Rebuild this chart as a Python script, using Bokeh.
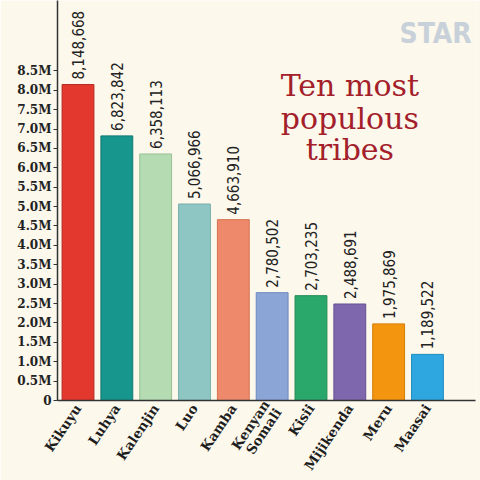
import math
from bokeh.plotting import figure
from bokeh.models import Range1d, FixedTicker, ColumnDataSource
from bokeh.core.properties import value
from bokeh.embed import file_html
from bokeh.resources import INLINE

tribes = ["Kikuyu", "Luhya", "Kalenjin", "Luo", "Kamba", "Kenyan\nSomali",
          "Kisii", "Mijikenda", "Meru", "Maasai"]
population = [8148668, 6823842, 6358113, 5066966, 4663910, 2780502,
              2703235, 2488691, 1975869, 1189522]
colors = ["#e2382e", "#16968d", "#b4dbb1", "#8ec6c3", "#ee8a6b", "#8ba5d7",
          "#2aa86c", "#7f67ae", "#f4950f", "#2ea6df"]
outlines = ["#b82a22", "#0f7770", "#98c294", "#76aeab", "#d4714f", "#7089bd",
            "#1e8a55", "#665192", "#d67d06", "#1f8cc0"]
y_ticks = [i * 500000 for i in range(18)]
y_tick_labels = ["0"] + [f"{t / 1e6:.1f}M" for t in y_ticks[1:]]

BG = "#fcf8ec"
Y_TOP = 10315000

xs = list(range(len(tribes)))
src = ColumnDataSource(dict(x=xs, top=population, color=colors, line=outlines,
                            label=[f"{v:,}" for v in population]))

p = figure(width=480, height=480, output_backend="svg", toolbar_location=None,
           x_range=Range1d(-0.528, 10.237), y_range=Range1d(0, Y_TOP),
           min_border_left=57, min_border_right=5, min_border_top=0,
           min_border_bottom=79)
p.background_fill_color = BG
p.border_fill_color = BG
p.outline_line_color = None
p.grid.grid_line_color = None

p.vbar(x="x", top="top", width=0.82, bottom=0, fill_color="color",
       line_color="line", line_width=1, source=src)

# value labels
p.text(x="x", y="top", text="label", angle=math.pi / 2, y_offset=-5,
       text_align="left", text_baseline="middle",
       text_font=value("DejaVu Sans Condensed"), text_font_size="15px",
       text_color="#222222", source=src)

# title
for line, yv in zip(["Ten most", "populous", "tribes"], [8.13e6, 7.28e6, 6.46e6]):
    p.text(x=[7.0], y=[yv], text=[line], text_align="center",
           text_baseline="alphabetic", text_font=value("DejaVu Serif"),
           text_font_size="30px", text_color="#a3202a")

# logo
p.text(x=[9.21], y=[9.47e6], text=["STAR"], text_align="center",
       text_baseline="alphabetic", text_font=value("DejaVu Sans Condensed"),
       text_font_style="bold", text_font_size="28px", text_color="#c8d1d9")

xa = p.xaxis[0]
xa.ticker = FixedTicker(ticks=xs)
xa.major_label_overrides = {i: t for i, t in enumerate(tribes)}
xa.major_label_orientation = math.radians(56)
xa.major_label_text_font = "DejaVu Serif"
xa.major_label_text_font_style = "bold"
xa.major_label_text_font_size = "13.5px"
xa.major_label_text_color = "#1e1e1e"
xa.major_label_text_line_height = 0.9
xa.major_tick_line_color = None
xa.major_tick_out = 0
xa.major_tick_in = 0
xa.minor_tick_line_color = None
xa.axis_line_color = "#333333"
xa.axis_line_width = 1.5
xa.major_label_standoff = 5

ya = p.yaxis[0]
ya.ticker = FixedTicker(ticks=y_ticks)
ya.major_label_overrides = {t: l for t, l in zip(y_ticks, y_tick_labels)}
ya.major_label_text_font = "DejaVu Serif"
ya.major_label_text_font_style = "bold"
ya.major_label_text_font_size = "12px"
ya.major_label_text_color = "#222222"
ya.major_tick_out = 4
ya.major_tick_in = 0
ya.major_tick_line_color = "#333333"
ya.minor_tick_line_color = None
ya.axis_line_color = "#333333"
ya.axis_line_width = 1.5
ya.major_label_standoff = 2

open("out.html", "w").write(file_html(p, INLINE))
